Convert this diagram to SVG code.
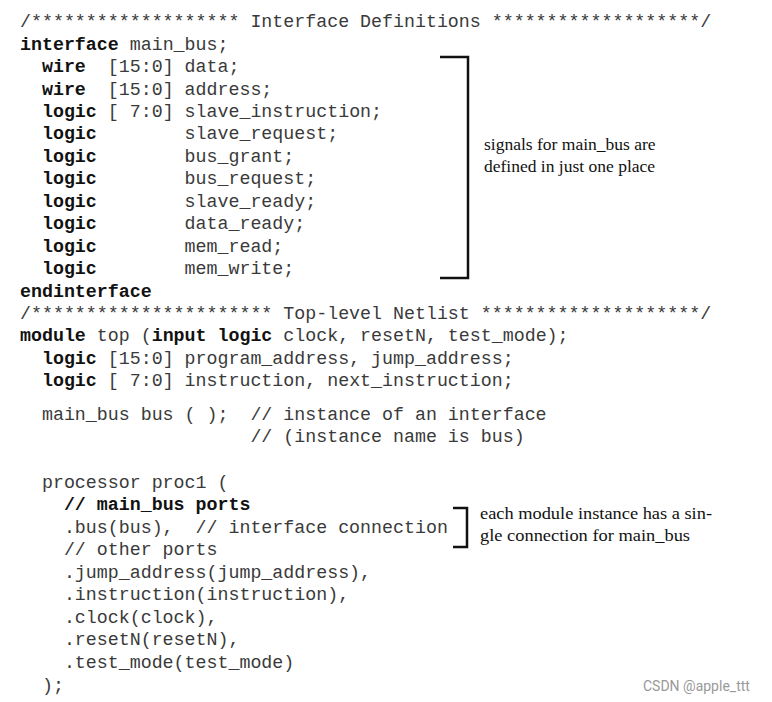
<svg xmlns="http://www.w3.org/2000/svg" width="772" height="702" viewBox="0 0 772 702">
<style>
.c{font-family:"Liberation Mono","DejaVu Sans Mono",monospace;font-size:18.3px;fill:#3a3a3a;white-space:pre}
.k{font-weight:bold;fill:#111}
.n{font-family:"Liberation Serif",serif;font-size:17.5px;fill:#111}
.br{fill:none;stroke:#111;stroke-width:2.5}
</style>
<rect width="772" height="702" fill="#fff"/>
<g id="code" xml:space="preserve" transform="translate(0,2)">
<text class="c" x="20" y="25">/******************* Interface Definitions *******************/</text>
<text class="c" x="20" y="48"><tspan class="k">interface</tspan> main_bus;</text>
<text class="c" x="20" y="70">  <tspan class="k">wire</tspan>  [15:0] data;</text>
<text class="c" x="20" y="93">  <tspan class="k">wire</tspan>  [15:0] address;</text>
<text class="c" x="20" y="115">  <tspan class="k">logic</tspan> [ 7:0] slave_instruction;</text>
<text class="c" x="20" y="137">  <tspan class="k">logic</tspan>        slave_request;</text>
<text class="c" x="20" y="160">  <tspan class="k">logic</tspan>        bus_grant;</text>
<text class="c" x="20" y="182">  <tspan class="k">logic</tspan>        bus_request;</text>
<text class="c" x="20" y="205">  <tspan class="k">logic</tspan>        slave_ready;</text>
<text class="c" x="20" y="227">  <tspan class="k">logic</tspan>        data_ready;</text>
<text class="c" x="20" y="250">  <tspan class="k">logic</tspan>        mem_read;</text>
<text class="c" x="20" y="272">  <tspan class="k">logic</tspan>        mem_write;</text>
<text class="c" x="20" y="295"><tspan class="k">endinterface</tspan></text>
<text class="c" x="20" y="317">/********************** Top-level Netlist ********************/</text>
<text class="c" x="20" y="339"><tspan class="k">module</tspan> top (<tspan class="k">input logic</tspan> clock, resetN, test_mode);</text>
<text class="c" x="20" y="362">  <tspan class="k">logic</tspan> [15:0] program_address, jump_address;</text>
<text class="c" x="20" y="384">  <tspan class="k">logic</tspan> [ 7:0] instruction, next_instruction;</text>
<text class="c" x="20" y="418">  main_bus bus ( );  // instance of an interface</text>
<text class="c" x="20" y="440">                     // (instance name is bus)</text>
<text class="c" x="20" y="486">  processor proc1 (</text>
<text class="c" x="20" y="508">    <tspan class="k">// main_bus ports</tspan></text>
<text class="c" x="20" y="531">    .bus(bus),  // interface connection</text>
<text class="c" x="20" y="553">    // other ports</text>
<text class="c" x="20" y="576">    .jump_address(jump_address),</text>
<text class="c" x="20" y="598">    .instruction(instruction),</text>
<text class="c" x="20" y="621">    .clock(clock),</text>
<text class="c" x="20" y="643">    .resetN(resetN),</text>
<text class="c" x="20" y="666">    .test_mode(test_mode)</text>
<text class="c" x="20" y="689">  );</text>
</g>
<g id="note1">
<path class="br" d="M440 57H468V278H440"/>
<text class="n" x="484" y="150">signals for main_bus are</text>
<text class="n" x="484" y="172">defined in just one place</text>
</g>
<g id="note2">
<path class="br" d="M453 508H467V547H453"/>
<text class="n" x="480" y="519" textLength="232" lengthAdjust="spacingAndGlyphs">each module instance has a sin-</text>
<text class="n" x="480" y="541" textLength="210" lengthAdjust="spacingAndGlyphs">gle connection for main_bus</text>
</g>
<text x="643" y="691" font-family="Roboto,'Liberation Sans',sans-serif" font-size="14" fill="#999">CSDN @apple_ttt</text>
</svg>
